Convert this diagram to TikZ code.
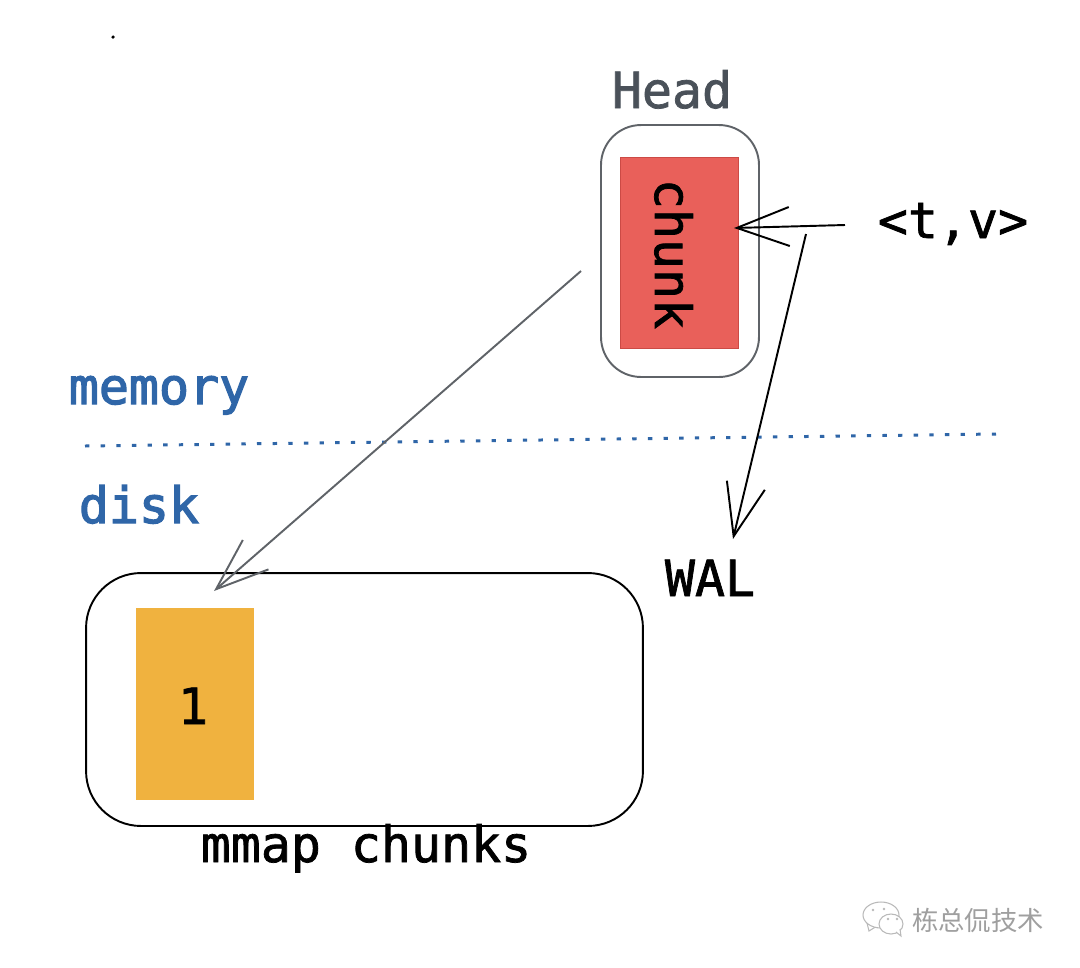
\documentclass[tikz,border=0pt]{standalone}
\usepackage{fontspec}
\setmonofont[FakeBold=1.5]{DejaVu Sans Mono}
\newfontfamily\bluemono[FakeBold=2.5]{DejaVu Sans Mono}
\newfontfamily\cjk{Noto Sans CJK SC}
\usetikzlibrary{arrows.meta}
\definecolor{head_gray}{HTML}{4A5159}
\definecolor{line_gray}{HTML}{5F6368}
\definecolor{chunk_red}{HTML}{E9605A}
\definecolor{chunk_edge}{HTML}{CC4A45}
\definecolor{mmap_yellow}{HTML}{F0B23F}
\definecolor{label_blue}{HTML}{2F66A8}
\begin{document}
\begin{tikzpicture}[x=0.02cm, y=-0.02cm,
    label_style/.style={font=\ttfamily\fontsize{28.4}{28}\selectfont,inner sep=0pt,anchor=base},
    blue_style/.style={label_style,text=label_blue,font=\bluemono\fontsize{28.4}{28}\selectfont},
    head_style/.style={draw=line_gray,line width=1.1pt,rounded corners=0.8cm,minimum width=3.16cm,minimum height=5.04cm},
    chunk_style/.style={draw=chunk_edge,fill=chunk_red,minimum width=2.36cm,minimum height=3.82cm},
    disk_style/.style={draw=black,line width=1.1pt,rounded corners=1.1cm,minimum width=11.14cm,minimum height=5.06cm},
    file_style/.style={fill=mmap_yellow,minimum width=2.36cm,minimum height=3.84cm},
    edge_style/.style={draw=black,line width=1.1pt,-{Straight Barb[length=1.05cm,width=0.78cm,line width=1.1pt]}},
    mark_style/.style={circle,fill=black,inner sep=0pt,minimum size=2pt},
    bubble_style/.style={draw=gray!55,fill=white,line width=0.6pt},
    eye_style/.style={fill=gray!55}]
  \useasboundingbox (0,0) rectangle (1080,968);
  \draw
    (680,251) node[head_style] (head){}
    (679,252.5) node[chunk_style] (chunk){}
    (364.5,699.5) node[disk_style] (disk){}
    (195,704) node[file_style] (file){}
    (113,37) node[mark_style] (mark){};
  \node[label_style,text=head_gray] (headlabel) at (672,108) {Head};
  \node[label_style,rotate=-90,anchor=base] (chunklabel) at (655,254) {chunk};
  \node[label_style] (tv) at (953,238) {<t,v>};
  \node[blue_style] (memory) at (159,404) {memory};
  \node[blue_style] (disklabel) at (139,523) {disk};
  \node[label_style] (wal) at (710,596) {WAL};
  \node[label_style] (one) at (193,724) {1};
  \node[label_style] (mmap) at (366,862) {mmap chunks};
  \coordinate (split_start) at (581,271);
  \coordinate (split_end) at (214,591);
  \coordinate (tv_start) at (845,225);
  \coordinate (tv_end) at (734,228);
  \coordinate (wal_start) at (806,234);
  \coordinate (wal_end) at (733,539);
  \coordinate (line_start) at (85,446);
  \coordinate (line_end) at (996,434);
  \draw[label_blue,line width=1.7pt,dash pattern=on 2.5pt off 6.4pt] (line_start) -- (line_end);
  \begin{scope}[->]
    \draw[edge_style,draw=line_gray] (split_start) to (split_end);
    \draw[edge_style] (tv_start) to (tv_end);
    \draw[edge_style] (wal_start) to (wal_end);
  \end{scope}
  % watermark
  \draw[bubble_style] (867,923) -- (869,931) -- (877,926);
  \draw[bubble_style] (881,915) ellipse (18 and 13);
  \fill[eye_style] (873,910) circle (1.3) (884,909) circle (1.3);
  \draw[bubble_style] (891,924) ellipse (12 and 10);
  \draw[bubble_style] (896,932) -- (901,936) -- (900,929);
  \fill[eye_style] (888,919) circle (1.3) (897,919) circle (1.3);
  \node[inner sep=0pt,text=gray!75,font=\cjk\fontsize{15}{15}\selectfont] (watermark) at (978,921) {栋总侃技术};
\end{tikzpicture}
\end{document}
